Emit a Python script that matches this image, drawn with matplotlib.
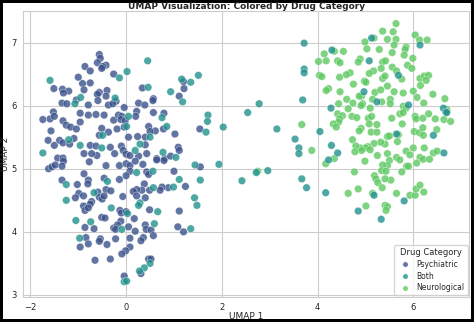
import numpy as np
import pandas as pd
import matplotlib
matplotlib.use("Agg")
import matplotlib.pyplot as plt
import seaborn as sns

# UMAP coordinates, grouped by drug category
psych_x = [-0.56, -0.54, -0.60, -0.42, -0.49, -0.51, -0.86, -0.75, -0.26, -1.00, -0.91, -0.75,
           -1.51, -1.33, -1.20, -1.31, -0.88, -0.56, -0.60, -0.40, -0.42, -1.04, -1.34, -1.24,
           -0.79, -0.59, -0.21, -0.37, -0.28, -0.04, 0.26, 0.39, 0.57, 0.56, 0.34, 1.20, 1.21,
           1.11, -1.52, -1.59, -1.74, -1.50, -1.32, -1.25, -1.16, -1.04, -0.96, -0.96, -0.79,
           -0.63, -0.46, -0.51, -0.26, -0.16, -0.09, -0.11, -0.02, -0.04, -0.19, -0.37, -0.56,
           0.22, 0.20, 0.57, 0.79, 0.78, 0.61, 0.47, 0.05, 0.24, 0.40, 0.50, 1.02, -1.57, -1.63,
           -1.50, -1.39, -1.32, -1.18, -1.09, -0.88, -0.75, -0.63, -0.61, -0.72, -0.33, -0.24,
           -0.10, -0.06, 0.00, 0.08, 0.40, 0.43, 0.26, 0.64, 0.81, 0.93, 1.09, 1.11, -1.43, -1.32,
           -1.62, -1.55, -1.48, -1.31, -1.34, -0.77, -0.42, -0.14, 0.00, 0.08, 0.19, 0.35, 0.64,
           0.79, 1.00, 0.08, 0.43, 0.47, -0.88, -1.34, -1.02, -0.79, -0.80, -0.46, -0.14, 0.00,
           0.38, 1.24, 0.88, 0.75, 0.71, 0.49, 0.33, 0.22, 0.15, -0.42, -0.32, -0.59, -0.99,
           -0.89, -1.06, -0.56, -0.50, -0.46, -0.07, 0.22, 0.40, -0.72, -0.75, -0.89, -0.86,
           -0.79, -0.13, -0.10, 0.00, 0.49, 1.11, -0.51, -0.44, -0.11, 0.17, -0.86, -0.67, -0.26,
           -0.18, -0.22, 0.05, 0.19, 0.40, 0.42, 0.52, 1.08, 1.20, 0.57, 0.36, 0.31, 0.08, -0.22,
           -0.54, -0.56, -0.84, -0.79, -0.96, -0.40, 0.08, -0.01, -0.09, -0.33, -0.65, 0.47,
           0.52, 0.31, -0.04, 1.54, 1.55]
psych_y = [6.81, 6.75, 6.68, 6.64, 6.62, 6.59, 6.62, 6.55, 6.50, 6.45, 6.35, 6.36, 6.27, 6.26,
           6.23, 6.20, 6.25, 6.21, 6.18, 6.24, 6.15, 6.09, 6.04, 6.03, 6.01, 6.08, 6.07, 6.01,
           6.03, 5.97, 6.04, 6.01, 6.11, 6.08, 6.28, 6.38, 6.27, 6.15, 5.90, 5.79, 5.78, 5.83,
           5.76, 5.69, 5.66, 5.63, 5.74, 5.88, 5.85, 5.86, 5.85, 5.64, 5.77, 5.85, 5.83, 5.78,
           5.76, 5.66, 5.63, 5.58, 5.53, 5.91, 5.83, 5.89, 5.88, 5.63, 5.60, 5.67, 5.50, 5.51,
           5.50, 5.59, 5.55, 5.60, 5.45, 5.37, 5.45, 5.41, 5.39, 5.48, 5.24, 5.37, 5.36, 5.21,
           5.24, 5.34, 5.24, 5.36, 5.29, 5.23, 5.21, 5.38, 5.24, 5.20, 5.16, 5.16, 5.20, 5.34,
           5.29, 5.17, 5.17, 5.00, 5.03, 5.06, 5.12, 5.04, 5.11, 5.05, 5.05, 5.08, 5.05, 5.12,
           5.07, 5.14, 5.13, 4.96, 4.96, 4.95, 4.91, 4.92, 4.82, 4.75, 4.82, 4.76, 4.85, 4.83,
           4.89, 4.76, 4.72, 4.70, 4.71, 4.66, 4.66, 4.66, 4.67, 4.64, 4.67, 4.65, 4.63, 4.61,
           4.57, 4.54, 4.55, 4.52, 4.57, 4.56, 4.57, 4.54, 4.48, 4.44, 4.41, 4.34, 4.38, 4.34,
           4.30, 4.32, 4.35, 4.33, 4.23, 4.22, 4.17, 4.21, 4.07, 4.05, 4.06, 4.11, 4.04, 4.08,
           4.01, 4.11, 4.04, 4.03, 4.08, 4.00, 3.94, 3.91, 3.86, 3.90, 3.89, 3.89, 3.85, 3.91,
           3.81, 3.76, 3.80, 3.76, 3.70, 3.65, 3.57, 3.55, 3.57, 3.57, 3.34, 3.30, 5.63, 5.03]

both_x = [0.45, 0.02, -0.14, -1.59, -0.95, -1.07, -0.23, 0.46, 0.93, 1.16, 1.35, 1.18, 1.51,
          -0.49, 0.01, 0.05, 0.75, 0.85, 0.50, -1.20, -0.96, -0.51, 0.19, 0.29, 0.77, 1.04,
          -1.74, 1.44, 0.22, 0.56, -1.25, -0.39, 1.11, 0.57, 0.99, -0.67, 0.29, 0.26, 1.43,
          -1.25, -0.31, 0.03, 0.66, 1.48, -1.05, -0.74, -0.09, 0.59, 1.35, -0.97, 0.50, 0.38,
          0.28, -0.04, 0.01, 2.78, 2.54, 1.71, 1.70, 1.67, 2.03, 3.15, 3.53, 3.61, 3.61, 1.94,
          2.72, 2.96, 2.42, 1.55, 5.13, 3.72, 6.14, 4.30, 5.08, 5.69, 3.72, 3.72, 4.97, 3.69,
          5.24, 5.90, 4.28, 6.63, 6.68, 6.70, 4.05, 5.65, 6.42, 6.64, 4.29, 4.42, 4.23, 3.67,
          3.77, 4.17, 5.18, 5.81, 4.85, 5.33]
both_y = [6.71, 6.54, 6.44, 6.40, 6.13, 6.03, 6.12, 6.29, 6.22, 6.42, 6.37, 6.06, 6.48, 5.53,
          5.67, 5.83, 5.81, 5.67, 5.50, 5.46, 5.37, 5.33, 5.29, 5.39, 5.26, 5.18, 5.25, 5.06,
          4.94, 4.96, 4.75, 4.80, 4.83, 4.70, 4.71, 4.62, 4.46, 4.42, 4.54, 4.50, 4.38, 4.29,
          4.32, 4.42, 4.18, 4.16, 4.04, 4.13, 4.05, 3.90, 3.50, 3.43, 3.38, 3.21, 3.22, 6.03,
          5.89, 5.85, 5.75, 5.58, 5.66, 5.63, 5.47, 5.33, 5.24, 5.07, 4.94, 4.97, 4.81, 4.82,
          7.07, 6.99, 6.96, 6.88, 6.71, 6.48, 6.58, 6.52, 6.22, 6.09, 6.06, 6.01, 5.96, 5.96,
          5.90, 5.89, 5.59, 5.55, 5.53, 5.25, 5.37, 5.25, 5.14, 4.84, 4.70, 4.62, 4.58, 4.49,
          4.33, 4.20]

neuro_x = [5.64, 5.36, 5.58, 6.04, 5.18, 5.46, 5.64, 6.13, 6.29, 4.99, 5.60, 5.85, 5.83, 5.03,
           5.29, 4.35, 4.54, 4.14, 5.56, 5.81, 5.99, 4.02, 4.18, 4.42, 4.47, 4.89, 4.85, 5.36,
           5.42, 5.88, 5.97, 5.33, 5.56, 5.65, 5.17, 5.08, 4.68, 4.60, 4.46, 4.04, 4.09, 5.36,
           5.41, 5.76, 6.14, 6.23, 6.32, 6.27, 4.98, 5.01, 4.75, 5.46, 6.15, 4.23, 4.18, 4.47,
           4.92, 4.87, 5.20, 5.32, 5.60, 5.79, 6.00, 6.41, 6.08, 6.66, 5.15, 5.52, 4.61, 5.34,
           4.94, 4.91, 4.74, 4.44, 5.52, 5.79, 5.85, 6.22, 5.10, 6.70, 4.64,
           4.42, 4.52, 4.46, 4.44, 4.33, 4.39, 4.72, 4.82, 5.06, 5.13, 5.55, 5.72, 5.79, 6.04,
           6.06, 6.20, 6.32, 6.46, 6.64, 6.78, 3.67, 4.91, 4.87, 5.12, 5.24, 5.24, 5.08, 5.77,
           6.02, 6.13, 6.21, 6.20, 6.49, 5.46, 5.50, 5.69, 5.41, 5.67, 4.73, 5.32, 5.18, 5.05,
           5.00, 5.10, 4.89, 4.80, 4.92, 4.78, 5.25, 5.46, 5.65, 5.72, 5.85, 5.93, 6.00, 6.23,
           6.42, 6.50, 6.14, 6.21, 6.34, 6.07, 5.86, 5.90, 5.50, 5.46, 5.36, 5.34, 5.43, 5.76,
           5.53, 5.41, 5.19, 5.22, 5.26, 5.35, 4.77, 4.99, 4.35, 4.17, 3.88, 4.64, 4.85, 5.15,
           5.65, 5.93, 6.04, 6.06, 6.14, 6.22, 5.01, 5.41, 5.46, 5.43, 2.75]
neuro_y = [7.30, 7.18, 7.17, 7.12, 7.07, 7.05, 7.05, 7.04, 7.04, 7.01, 6.96, 6.93, 6.89, 6.90,
           6.89, 6.86, 6.86, 6.82, 6.84, 6.80, 6.75, 6.70, 6.71, 6.71, 6.68, 6.74, 6.69, 6.69,
           6.71, 6.64, 6.59, 6.59, 6.61, 6.55, 6.55, 6.51, 6.52, 6.49, 6.45, 6.48, 6.46, 6.43,
           6.47, 6.42, 6.43, 6.47, 6.48, 6.40, 6.39, 6.37, 6.34, 6.31, 6.32, 6.27, 6.24, 6.22,
           6.15, 6.15, 6.21, 6.25, 6.22, 6.20, 6.23, 6.18, 6.13, 6.11, 6.10, 6.10, 6.10, 6.06,
           6.03, 6.00, 6.04, 6.03, 6.03, 5.99, 5.96, 6.04, 5.96, 5.94, 5.95,
           5.87, 5.84, 5.79, 5.74, 5.71, 5.66, 5.83, 5.81, 5.80, 5.83, 5.80, 5.87, 5.89, 5.83,
           5.79, 5.80, 5.87, 5.79, 5.78, 5.75, 5.70, 5.64, 5.60, 5.58, 5.58, 5.70, 5.71, 5.71,
           5.59, 5.57, 5.53, 5.65, 5.62, 5.51, 5.52, 5.54, 5.39, 5.43, 5.46, 5.42, 5.40, 5.35,
           5.33, 5.30, 5.33, 5.36, 5.29, 5.27, 5.21, 5.24, 5.18, 5.14, 5.28, 5.22, 5.33, 5.33,
           5.25, 5.28, 5.18, 5.15, 5.15, 5.09, 5.04, 5.04, 5.13, 5.05, 5.06, 4.97, 4.96, 4.95,
           4.82, 4.84, 4.89, 4.84, 4.78, 4.70, 4.95, 5.12, 5.16, 5.08, 5.29, 4.61, 4.68, 4.61,
           4.61, 4.58, 4.58, 4.68, 4.74, 4.63, 4.41, 4.42, 4.40, 4.34, 4.96]

categories = ["Psychiatric", "Both", "Neurological"]

df = pd.concat([
    pd.DataFrame({"UMAP 1": psych_x, "UMAP 2": psych_y, "Drug Category": "Psychiatric"}),
    pd.DataFrame({"UMAP 1": neuro_x, "UMAP 2": neuro_y, "Drug Category": "Neurological"}),
    pd.DataFrame({"UMAP 1": both_x, "UMAP 2": both_y, "Drug Category": "Both"}),
], ignore_index=True)

sns.set_style("whitegrid")
plt.rcParams["font.family"] = ["DejaVu Sans"]

fig = plt.figure(figsize=(4.74, 3.22), dpi=100)
fig.patch.set_edgecolor("black")
fig.patch.set_linewidth(4)
ax = fig.add_axes([0.049, 0.078, 0.941, 0.888])

sns.scatterplot(data=df, x="UMAP 1", y="UMAP 2", hue="Drug Category",
                hue_order=categories, palette="viridis", alpha=0.8, s=30,
                edgecolor="white", linewidth=0.3, ax=ax)

ax.set_xlim(-2.15, 7.17)
ax.set_ylim(2.97, 7.5)
ax.set_xticks([-2, 0, 2, 4, 6])
ax.set_yticks([3, 4, 5, 6, 7])
ax.tick_params(labelsize=6, pad=1)
ax.set_title("UMAP Visualization: Colored by Drug Category", fontsize=6.5,
             fontweight="semibold", pad=1.5)
ax.set_xlabel("UMAP 1", fontsize=6.5, labelpad=0)
ax.set_ylabel("UMAP 2", fontsize=6.5, labelpad=1)

leg = ax.legend(title="Drug Category", loc="lower right", fontsize=5.5,
                title_fontsize=6, markerscale=0.7, handletextpad=0.5,
                borderpad=0.4, labelspacing=0.35, borderaxespad=0.2)

fig.savefig("out.png", dpi=100, edgecolor=fig.get_edgecolor())
